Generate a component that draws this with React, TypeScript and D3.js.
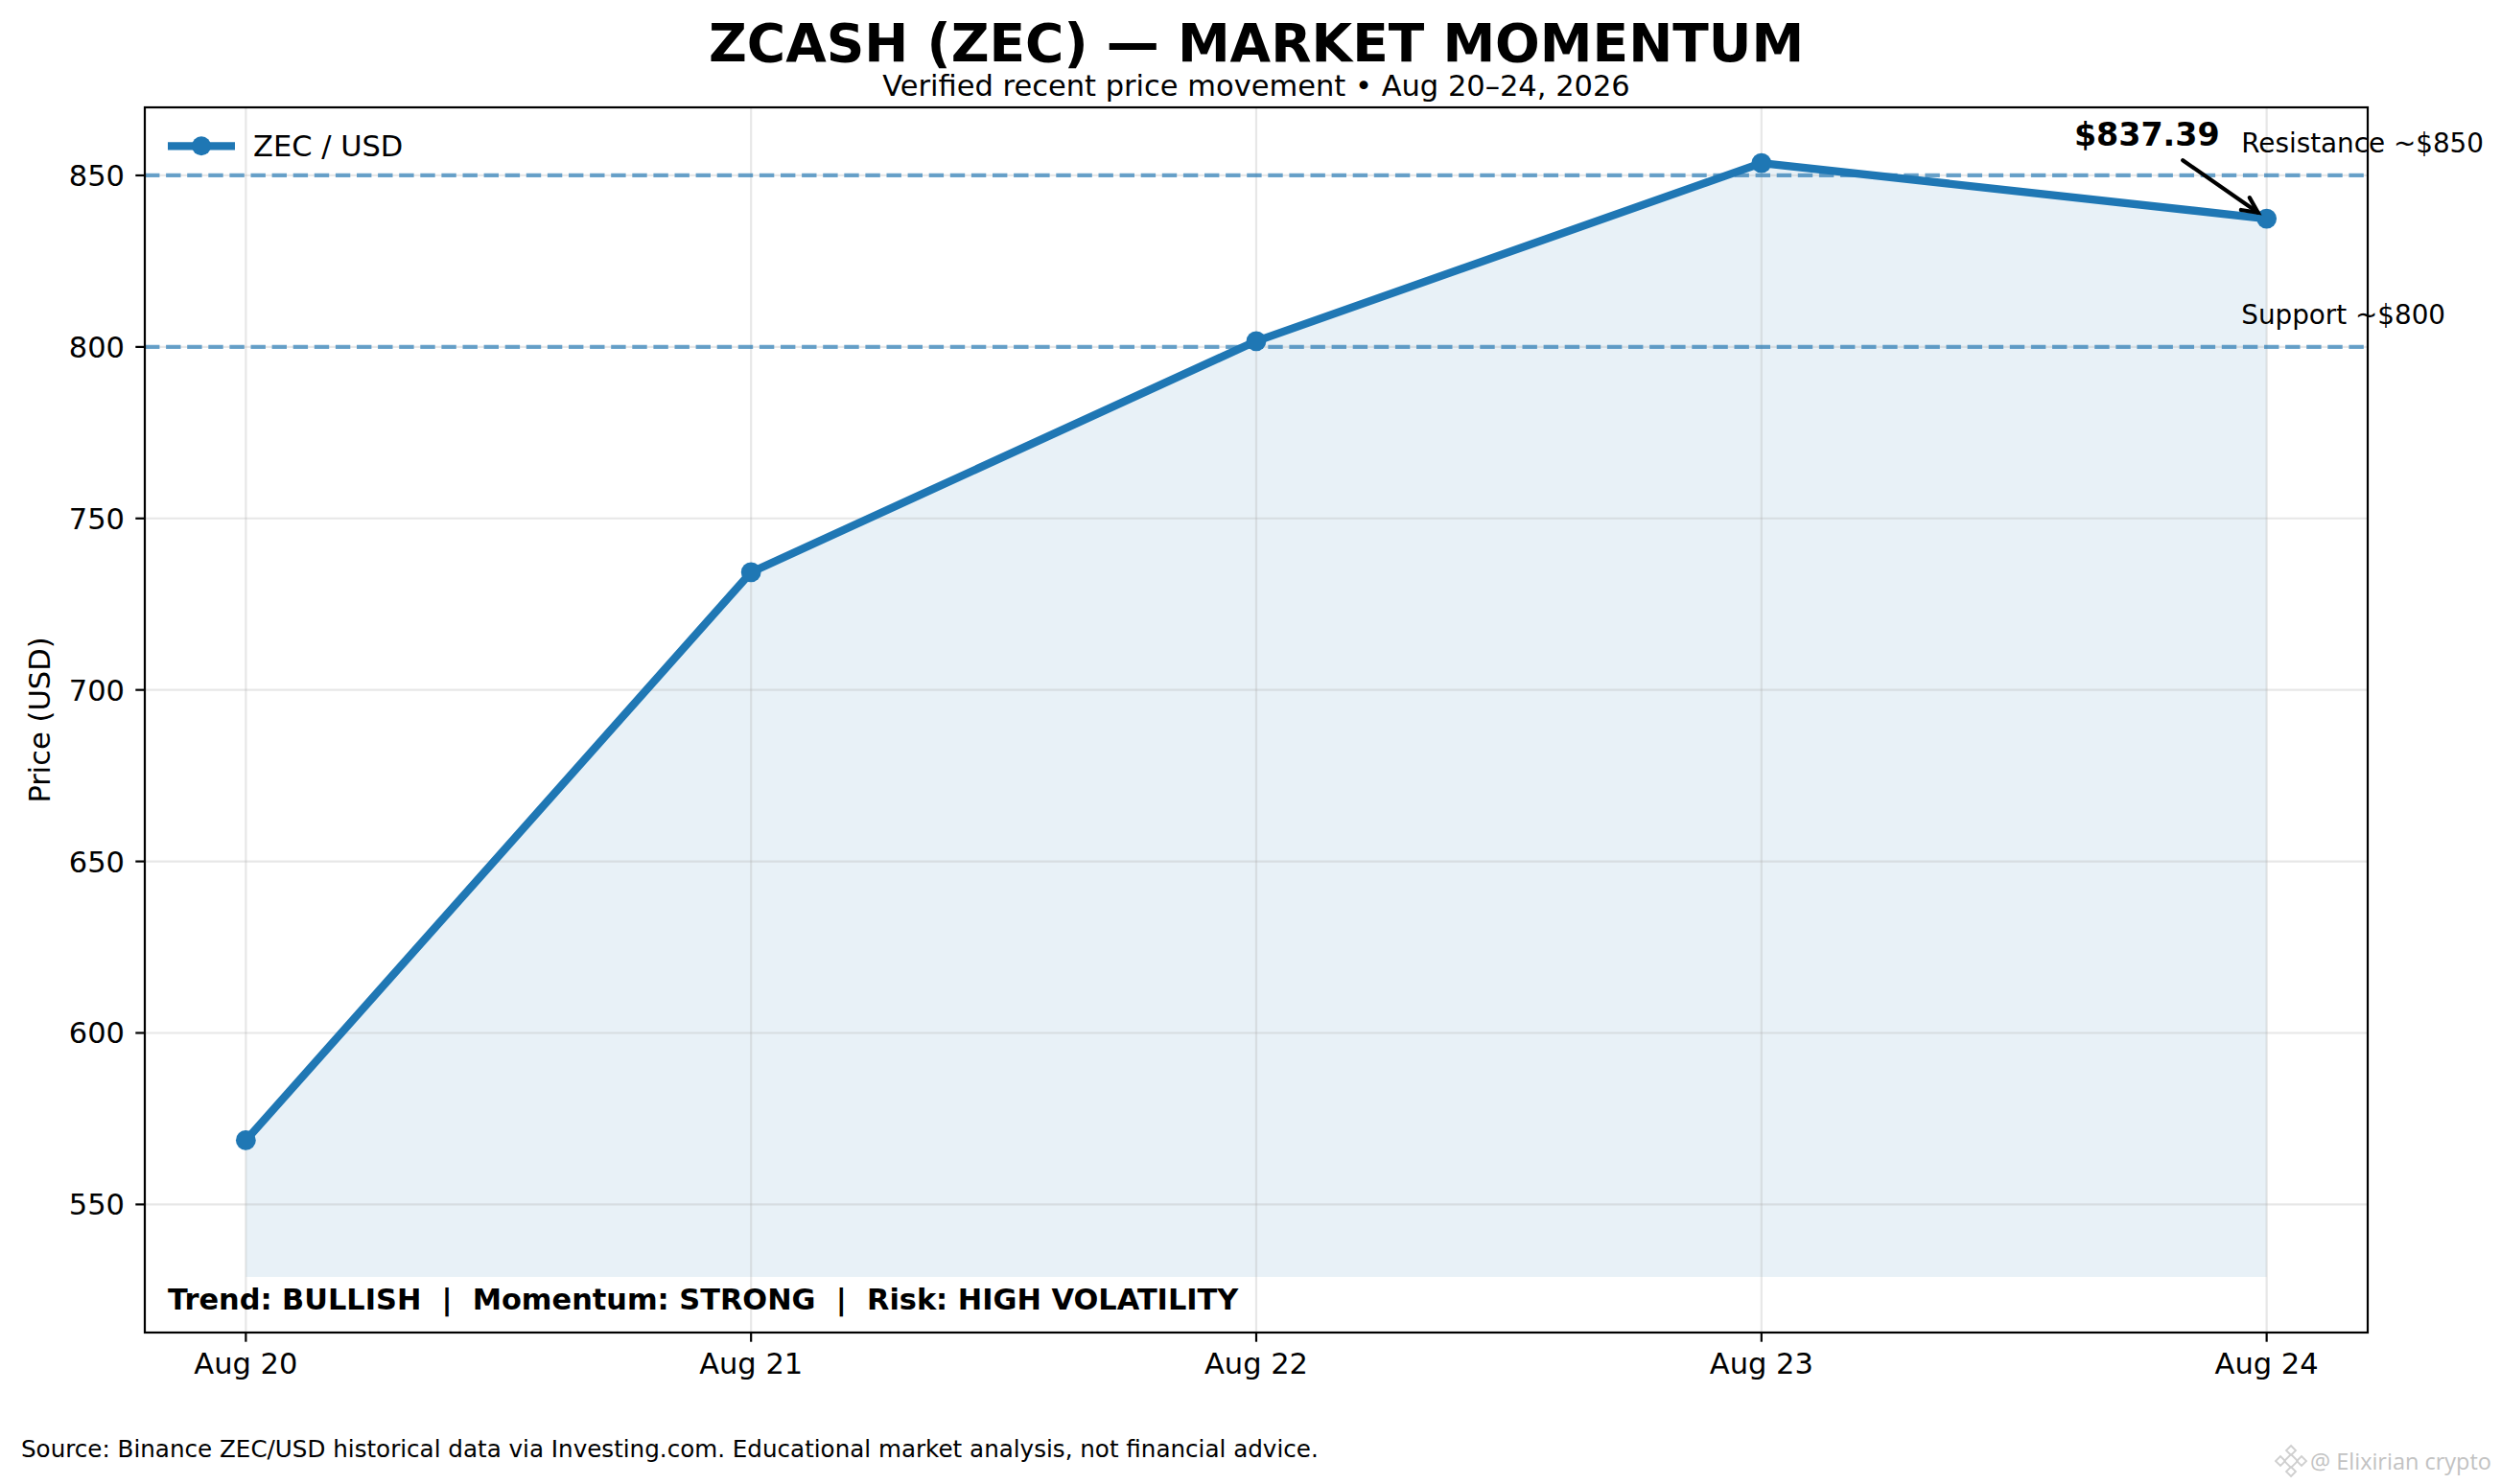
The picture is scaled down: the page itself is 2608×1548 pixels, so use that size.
import React from "react";
import * as d3 from "d3";

const dates = ["Aug 20", "Aug 21", "Aug 22", "Aug 23", "Aug 24"];
const prices = [568.7, 734.3, 801.7, 853.6, 837.39];
const yTicks = [550, 600, 650, 700, 750, 800, 850];
const levels = [
  { value: 850, label: "Resistance ~$850" },
  { value: 800, label: "Support ~$800" },
];

const W = 2608;
const H = 1548;
const margin = { top: 112, right: 139, bottom: 158, left: 151 };
const BLUE = "#1f77b4";
const FONT = "DejaVu Sans, Liberation Sans, sans-serif";
const TICK_FS = 30.5;

export default function App() {
  const iw = W - margin.left - margin.right;
  const ih = H - margin.top - margin.bottom;

  const idx = dates.map((_, i) => i);
  const x = d3.scaleLinear().domain([-0.2, dates.length - 1 + 0.2]).range([margin.left, margin.left + iw]);

  // fill floor sits a bit under the lowest close, axis gets 5% padding like matplotlib
  const floor = d3.min(prices)! * 0.93;
  const top = d3.max(prices)!;
  const pad = (top - floor) * 0.05;
  const y = d3.scaleLinear().domain([floor - pad, top + pad]).range([margin.top + ih, margin.top]);

  const line = d3
    .line<number>()
    .x((i) => x(i))
    .y((i) => y(prices[i]));
  const area = d3
    .area<number>()
    .x((i) => x(i))
    .y0(() => y(floor))
    .y1((i) => y(prices[i]));

  // annotation on the last close
  const last = idx[idx.length - 1];
  const px = x(last);
  const py = y(prices[last]);
  const labelX = x(3.763);
  const labelY = y(858.7);
  const ax0 = x(3.834);
  const ay0 = y(854.4);
  const ang = Math.atan2(py - ay0, px - ax0);
  const ax1 = px - Math.cos(ang) * 11;
  const ay1 = py - Math.sin(ang) * 11;
  const head = (s: number) =>
    `${ax1 - 18 * Math.cos(ang + s)},${ay1 - 18 * Math.sin(ang + s)}`;

  const bottom = margin.top + ih;
  const right = margin.left + iw;

  return (
    <svg
      width={W}
      height={H}
      style={{ position: "absolute", left: 0, top: 0, background: "#fff" }}
      fontFamily={FONT}
    >
      <rect width={W} height={H} fill="#fff" />

      {/* title */}
      <text x={margin.left + iw / 2} y={64} textAnchor="middle" fontSize={55} fontWeight="bold">
        ZCASH (ZEC) — MARKET MOMENTUM
      </text>
      <text x={margin.left + iw / 2} y={100} textAnchor="middle" fontSize={30.5}>
        Verified recent price movement • Aug 20–24, 2026
      </text>

      {/* fill under the line */}
      <path d={area(idx)!} fill={BLUE} fillOpacity={0.1} />

      {/* grid */}
      <g stroke="#b0b0b0" strokeOpacity={0.3} strokeWidth={2.2}>
        {idx.map((i) => (
          <line key={"gx" + i} x1={x(i)} x2={x(i)} y1={margin.top} y2={bottom} />
        ))}
        {yTicks.map((t) => (
          <line key={"gy" + t} x1={margin.left} x2={right} y1={y(t)} y2={y(t)} />
        ))}
      </g>

      {/* support / resistance */}
      {levels.map((l) => (
        <g key={l.label}>
          <line
            x1={margin.left}
            x2={right}
            y1={y(l.value)}
            y2={y(l.value)}
            stroke={BLUE}
            strokeOpacity={0.65}
            strokeWidth={4.2}
            strokeDasharray="15.4 6.7"
          />
          <text x={x(3.95)} y={y(l.value) - 23.6} fontSize={27.8}>
            {l.label}
          </text>
        </g>
      ))}

      {/* price line */}
      <path d={line(idx)!} fill="none" stroke={BLUE} strokeWidth={8.3} strokeLinejoin="round" />
      {idx.map((i) => (
        <circle key={"m" + i} cx={x(i)} cy={y(prices[i])} r={10.4} fill={BLUE} />
      ))}

      {/* annotation */}
      <text x={labelX} y={labelY} textAnchor="middle" fontSize={33.3} fontWeight="bold">
        ${prices[last].toFixed(2)}
      </text>
      <g stroke="#000" strokeWidth={4.2} fill="none" strokeLinecap="round">
        <line x1={ax0} y1={ay0} x2={ax1} y2={ay1} />
        <polyline points={`${head(0.45)} ${ax1},${ay1} ${head(-0.45)}`} />
      </g>

      {/* legend */}
      <line x1={175} x2={245} y1={152.3} y2={152.3} stroke={BLUE} strokeWidth={8.3} />
      <circle cx={210} cy={152.3} r={10} fill={BLUE} />
      <text x={264} y={163.3} fontSize={TICK_FS}>
        ZEC / USD
      </text>

      {/* status line */}
      <text x={175} y={1365.7} fontSize={30.4} fontWeight="bold" style={{ whiteSpace: "pre" }}>
        {"Trend: BULLISH  |  Momentum: STRONG  |  Risk: HIGH VOLATILITY"}
      </text>

      {/* spines */}
      <rect
        x={margin.left}
        y={margin.top}
        width={iw}
        height={ih}
        fill="none"
        stroke="#000"
        strokeWidth={2.2}
      />

      {/* x axis */}
      {idx.map((i) => (
        <g key={"xt" + i}>
          <line x1={x(i)} x2={x(i)} y1={bottom} y2={bottom + 9.7} stroke="#000" strokeWidth={2.2} />
          <text x={x(i)} y={1433.3} textAnchor="middle" fontSize={TICK_FS}>
            {dates[i]}
          </text>
        </g>
      ))}

      {/* y axis */}
      {yTicks.map((t) => (
        <g key={"yt" + t}>
          <line x1={margin.left - 9.7} x2={margin.left} y1={y(t)} y2={y(t)} stroke="#000" strokeWidth={2.2} />
          <text x={margin.left - 21} y={y(t)} dy="0.36em" textAnchor="end" fontSize={TICK_FS}>
            {t}
          </text>
        </g>
      ))}
      <text
        transform={`translate(51.7,${margin.top + ih / 2}) rotate(-90)`}
        textAnchor="middle"
        fontSize={TICK_FS}
      >
        Price (USD)
      </text>

      {/* footer */}
      <text x={22} y={1520} fontSize={24.6}>
        Source: Binance ZEC/USD historical data via Investing.com. Educational market analysis, not financial advice.
      </text>

      {/* watermark */}
      <g transform="translate(2389,1524)" fill="none" stroke="#cfcfcf" strokeWidth={1.8}>
        <path d="M0,-7 L7,0 L0,7 L-7,0 Z" />
        <path d="M0,-16 L5,-11 L0,-6 L-5,-11 Z" />
        <path d="M0,16 L5,11 L0,6 L-5,11 Z" />
        <path d="M-16,0 L-11,5 L-6,0 L-11,-5 Z" />
        <path d="M16,0 L11,5 L6,0 L11,-5 Z" />
      </g>
      <text
        x={2598}
        y={1533}
        fontSize={23.5}
        fill="#c2c2c2"
        textAnchor="end"
        fontFamily="Open Sans, DejaVu Sans, sans-serif"
      >
        @ Elixirian crypto
      </text>
    </svg>
  );
}
